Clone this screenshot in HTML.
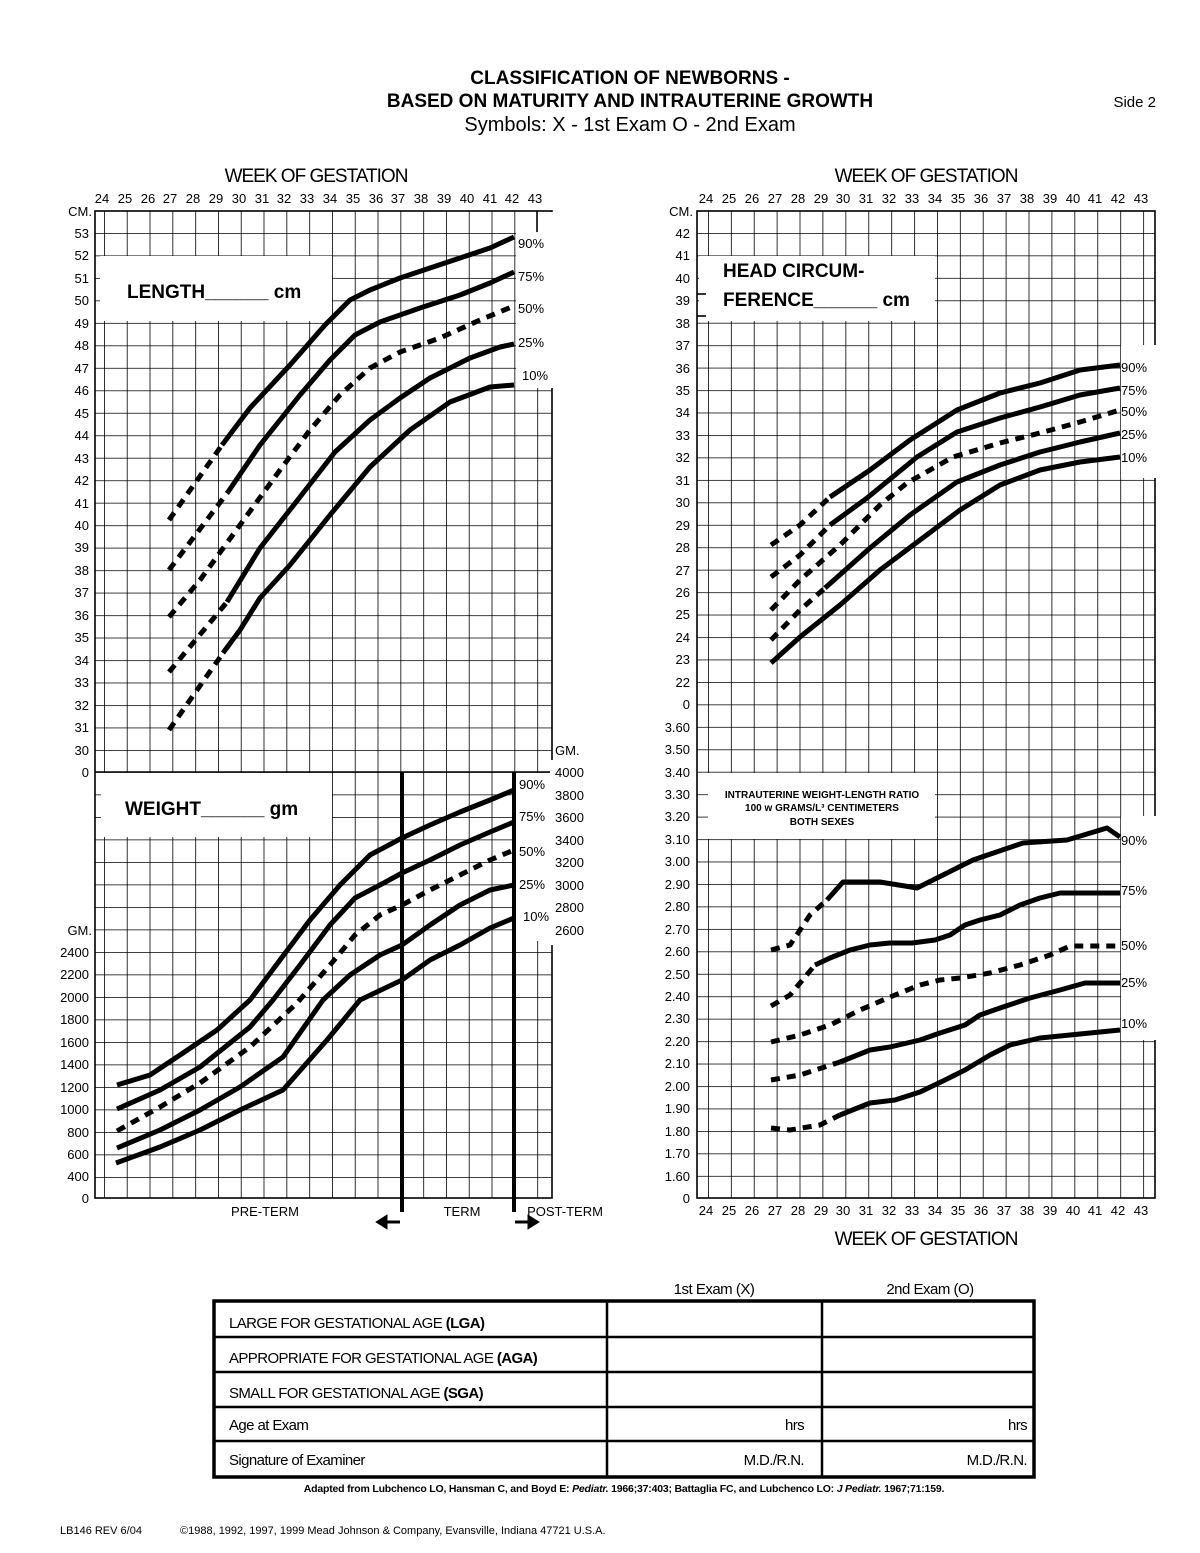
<!DOCTYPE html>
<html><head><meta charset="utf-8"><style>
html,body{margin:0;padding:0;background:#fff}
svg{display:block}
text{font-family:"Liberation Sans",sans-serif;fill:#000}
</style></head><body>
<svg width="1200" height="1553" viewBox="0 0 1200 1553" xmlns="http://www.w3.org/2000/svg">
<defs>
<pattern id="gL1" patternUnits="userSpaceOnUse" x="104" y="233" width="22.8" height="22.48">
<path d="M0 0V22.48M0 0H22.8" stroke="#000" stroke-width="1.6" fill="none"/></pattern>
<pattern id="gL2" patternUnits="userSpaceOnUse" x="104" y="772" width="22.8" height="22.5">
<path d="M0 0V22.5M0 0H22.8" stroke="#000" stroke-width="1.6" fill="none"/></pattern>
<pattern id="gR" patternUnits="userSpaceOnUse" x="708" y="233" width="22.9" height="22.45">
<path d="M0 0V22.45M0 0H22.9" stroke="#000" stroke-width="1.6" fill="none"/></pattern>
</defs>

<!-- Titles -->
<g font-weight="bold" font-size="19" text-anchor="middle">
<text x="630" y="84">CLASSIFICATION OF NEWBORNS -</text>
<text x="630" y="107">BASED ON MATURITY AND INTRAUTERINE GROWTH</text>
</g>
<text x="630" y="131" font-size="20" text-anchor="middle">Symbols:  X - 1st Exam  O - 2nd Exam</text>
<text x="1156" y="107" font-size="15" text-anchor="end">Side 2</text>

<!-- LEFT CHART grid -->
<rect x="95" y="211" width="457" height="561" fill="url(#gL1)"/>
<rect x="95" y="772" width="457" height="426" fill="url(#gL2)"/>
<rect x="95" y="211" width="457" height="987" fill="none" stroke="#000" stroke-width="1.6"/>
<line x1="95" y1="772" x2="552" y2="772" stroke="#000" stroke-width="1.6"/>
<!-- white boxes left -->
<rect x="100" y="256" width="232" height="65" fill="#fff"/>
<rect x="516" y="212" width="38" height="176" fill="#fff"/>
<line x1="537" y1="211" x2="537" y2="232" stroke="#000" stroke-width="1.6"/>
<rect x="101" y="773" width="231" height="64" fill="#fff"/>
<rect x="516" y="773" width="38" height="168" fill="#fff"/>
<line x1="552" y1="760" x2="552" y2="945" stroke="#fff" stroke-width="4"/>
<!-- term lines -->
<line x1="402" y1="772" x2="402" y2="1212" stroke="#000" stroke-width="4"/>
<line x1="514" y1="772" x2="514" y2="1212" stroke="#000" stroke-width="4"/>
<path d="M378 1222h22M378 1222l8-5v10z" stroke="#000" stroke-width="3" fill="#000"/>
<path d="M515 1222h22M537 1222l-8-5v10z" stroke="#000" stroke-width="3" fill="#000"/>
<g font-size="13" text-anchor="middle">
<text x="265" y="1216">PRE-TERM</text><text x="462" y="1216">TERM</text><text x="565" y="1216">POST-TERM</text>
</g>
<text x="127" y="298" font-size="19" font-weight="bold">LENGTH______ cm</text>
<text x="125" y="815" font-size="19" font-weight="bold">WEIGHT______ gm</text>

<!-- left headers -->
<text x="316" y="182" font-size="19" text-anchor="middle" letter-spacing="-1">WEEK OF GESTATION</text>
<g font-size="13" text-anchor="middle">
<text x="102" y="203">24</text><text x="125" y="203">25</text><text x="148" y="203">26</text><text x="170" y="203">27</text><text x="193" y="203">28</text><text x="216" y="203">29</text><text x="239" y="203">30</text><text x="262" y="203">31</text><text x="284" y="203">32</text><text x="307" y="203">33</text><text x="330" y="203">34</text><text x="353" y="203">35</text><text x="376" y="203">36</text><text x="398" y="203">37</text><text x="421" y="203">38</text><text x="444" y="203">39</text><text x="467" y="203">40</text><text x="490" y="203">41</text><text x="512" y="203">42</text><text x="535" y="203">43</text>
</g>
<g font-size="13" text-anchor="end">
<text x="92" y="216">CM.</text>
<text x="89" y="238">53</text><text x="89" y="260">52</text><text x="89" y="283">51</text><text x="89" y="305">50</text><text x="89" y="328">49</text><text x="89" y="350">48</text><text x="89" y="373">47</text><text x="89" y="395">46</text><text x="89" y="418">45</text><text x="89" y="440">44</text><text x="89" y="463">43</text><text x="89" y="485">42</text><text x="89" y="508">41</text><text x="89" y="530">40</text><text x="89" y="552">39</text><text x="89" y="575">38</text><text x="89" y="597">37</text><text x="89" y="620">36</text><text x="89" y="642">35</text><text x="89" y="665">34</text><text x="89" y="687">33</text><text x="89" y="710">32</text><text x="89" y="732">31</text><text x="89" y="755">30</text><text x="89" y="777">0</text>
<text x="92" y="935">GM.</text>
<text x="89" y="957">2400</text><text x="89" y="979">2200</text><text x="89" y="1002">2000</text><text x="89" y="1024">1800</text><text x="89" y="1047">1600</text><text x="89" y="1069">1400</text><text x="89" y="1092">1200</text><text x="89" y="1114">1000</text><text x="89" y="1137">800</text><text x="89" y="1159">600</text><text x="89" y="1181">400</text><text x="89" y="1203">0</text>
</g>
<g font-size="13">
<text x="555" y="755">GM.</text>
<text x="555" y="777">4000</text><text x="555" y="800">3800</text><text x="555" y="822">3600</text><text x="555" y="845">3400</text><text x="555" y="867">3200</text><text x="555" y="890">3000</text><text x="555" y="912">2800</text><text x="555" y="935">2600</text>
<text x="518" y="248">90%</text><text x="518" y="281">75%</text><text x="518" y="313">50%</text><text x="518" y="347">25%</text><text x="522" y="380">10%</text>
<text x="519" y="789">90%</text><text x="519" y="821">75%</text><text x="519" y="856">50%</text><text x="519" y="889">25%</text><text x="523" y="921">10%</text>
</g>

<!-- Length curves -->
<g fill="none" stroke="#000" stroke-width="5" stroke-linejoin="round">
<path d="M169 520L222 445" stroke-dasharray="9 7"/>
<path d="M222 445L250 408L290 365L325 325L350 300L370 290L400 278L430 268L460 258L490 248L514 237"/>
<path d="M169 570L228 492" stroke-dasharray="9 7"/>
<path d="M228 492L260 445L300 395L330 360L355 335L380 322L420 308L460 295L490 283L514 272"/>
<path d="M169 617L200 580L240 525L280 470L310 430L340 395L370 368L400 352L440 338L480 320L514 306" stroke-dasharray="9 7"/>
<path d="M169 672L227 602" stroke-dasharray="9 7"/>
<path d="M227 602L260 548L300 497L335 452L370 420L400 398L430 378L470 358L500 347L514 344"/>
<path d="M169 730L223 653" stroke-dasharray="9 7"/>
<path d="M223 653L240 630L260 598L290 565L330 515L370 467L410 430L450 402L490 387L514 385"/>
</g>
<!-- Weight curves -->
<g fill="none" stroke="#000" stroke-width="5" stroke-linejoin="round">
<path d="M117 1085L150 1075L183 1053L217 1030L250 1000L280 960L310 920L340 885L370 855L402 838L430 825L460 812L490 800L514 790"/>
<path d="M117 1109L160 1090L200 1067L250 1027L273 1000L300 965L330 925L355 898L380 885L402 873L430 860L460 845L490 832L514 822"/>
<path d="M117 1131L160 1107L200 1083L250 1047L297 1003L330 965L355 935L380 915L402 905L430 890L460 875L490 860L514 850" stroke-dasharray="9 7"/>
<path d="M117 1148L160 1130L200 1110L240 1087L283 1057L323 1000L350 975L380 955L402 945L430 925L460 905L490 890L514 885"/>
<path d="M116 1163L160 1147L200 1130L240 1110L283 1090L327 1040L360 1000L402 980L430 960L460 945L490 928L514 918"/>
</g>

<!-- RIGHT CHART -->
<rect x="697" y="211" width="458" height="987" fill="url(#gR)"/>
<rect x="697" y="211" width="458" height="987" fill="none" stroke="#000" stroke-width="1.6"/>
<rect x="699" y="256" width="236" height="65" fill="#fff"/>
<line x1="697" y1="294" x2="706" y2="294" stroke="#000" stroke-width="1.6"/>
<line x1="697" y1="316" x2="706" y2="316" stroke="#000" stroke-width="1.6"/>
<rect x="1121" y="345" width="36" height="133" fill="#fff"/>
<rect x="708" y="773" width="227" height="66" fill="#fff"/>
<rect x="1121" y="816" width="36" height="224" fill="#fff"/>
<text x="723" y="277" font-size="19" font-weight="bold">HEAD CIRCUM-</text>
<text x="723" y="306" font-size="19" font-weight="bold">FERENCE______ cm</text>
<g font-size="10" font-weight="bold" text-anchor="middle">
<text x="822" y="798">INTRAUTERINE WEIGHT-LENGTH RATIO</text>
<text x="822" y="811">100 w GRAMS/L³ CENTIMETERS</text>
<text x="822" y="825">BOTH SEXES</text>
</g>
<text x="926" y="182" font-size="19" text-anchor="middle" letter-spacing="-1">WEEK OF GESTATION</text>
<text x="926" y="1245" font-size="19" text-anchor="middle" letter-spacing="-1">WEEK OF GESTATION</text>
<g font-size="13" text-anchor="middle">
<text x="706" y="203">24</text><text x="729" y="203">25</text><text x="752" y="203">26</text><text x="775" y="203">27</text><text x="798" y="203">28</text><text x="821" y="203">29</text><text x="843" y="203">30</text><text x="866" y="203">31</text><text x="889" y="203">32</text><text x="912" y="203">33</text><text x="935" y="203">34</text><text x="958" y="203">35</text><text x="981" y="203">36</text><text x="1004" y="203">37</text><text x="1027" y="203">38</text><text x="1050" y="203">39</text><text x="1073" y="203">40</text><text x="1095" y="203">41</text><text x="1118" y="203">42</text><text x="1141" y="203">43</text>
<text x="706" y="1215">24</text><text x="729" y="1215">25</text><text x="752" y="1215">26</text><text x="775" y="1215">27</text><text x="798" y="1215">28</text><text x="821" y="1215">29</text><text x="843" y="1215">30</text><text x="866" y="1215">31</text><text x="889" y="1215">32</text><text x="912" y="1215">33</text><text x="935" y="1215">34</text><text x="958" y="1215">35</text><text x="981" y="1215">36</text><text x="1004" y="1215">37</text><text x="1027" y="1215">38</text><text x="1050" y="1215">39</text><text x="1073" y="1215">40</text><text x="1095" y="1215">41</text><text x="1118" y="1215">42</text><text x="1141" y="1215">43</text>
</g>
<g font-size="13" text-anchor="end">
<text x="693" y="216">CM.</text>
<text x="690" y="238">42</text><text x="690" y="260">41</text><text x="690" y="283">40</text><text x="690" y="305">39</text><text x="690" y="328">38</text><text x="690" y="350">37</text><text x="690" y="373">36</text><text x="690" y="395">35</text><text x="690" y="417">34</text><text x="690" y="440">33</text><text x="690" y="462">32</text><text x="690" y="485">31</text><text x="690" y="507">30</text><text x="690" y="530">29</text><text x="690" y="552">28</text><text x="690" y="575">27</text><text x="690" y="597">26</text><text x="690" y="619">25</text><text x="690" y="642">24</text><text x="690" y="664">23</text><text x="690" y="687">22</text><text x="690" y="709">0</text>
<text x="690" y="732">3.60</text><text x="690" y="754">3.50</text><text x="690" y="777">3.40</text><text x="690" y="799">3.30</text><text x="690" y="821">3.20</text><text x="690" y="844">3.10</text><text x="690" y="866">3.00</text><text x="690" y="889">2.90</text><text x="690" y="911">2.80</text><text x="690" y="934">2.70</text><text x="690" y="956">2.60</text><text x="690" y="979">2.50</text><text x="690" y="1001">2.40</text><text x="690" y="1023">2.30</text><text x="690" y="1046">2.20</text><text x="690" y="1068">2.10</text><text x="690" y="1091">2.00</text><text x="690" y="1113">1.90</text><text x="690" y="1136">1.80</text><text x="690" y="1158">1.70</text><text x="690" y="1181">1.60</text><text x="690" y="1203">0</text>
</g>
<g font-size="13">
<text x="1121" y="372">90%</text><text x="1121" y="395">75%</text><text x="1121" y="416">50%</text><text x="1121" y="439">25%</text><text x="1121" y="462">10%</text>
<text x="1121" y="845">90%</text><text x="1121" y="895">75%</text><text x="1121" y="950">50%</text><text x="1121" y="987">25%</text><text x="1121" y="1028">10%</text>
</g>
<!-- Head curves -->
<g fill="none" stroke="#000" stroke-width="5" stroke-linejoin="round">
<path d="M771 545L800 525L830 497" stroke-dasharray="9 7"/>
<path d="M830 497L870 470L910 440L957 410L1000 393L1040 383L1080 370L1120 365"/>
<path d="M771 577L800 555L830 525" stroke-dasharray="9 7"/>
<path d="M830 525L867 498L917 457L957 432L1000 418L1040 407L1080 395L1120 388"/>
<path d="M771 610L800 580L840 545L880 505L907 483L953 457L1000 443L1040 433L1080 422L1120 410" stroke-dasharray="9 7"/>
<path d="M771 640L800 610L825 588" stroke-dasharray="9 7"/>
<path d="M825 588L870 548L910 515L957 482L1000 465L1040 452L1080 442L1120 433"/>
<path d="M771 663L800 637L840 605L880 570L920 540L960 510L1000 485L1040 470L1080 462L1120 457"/>
</g>
<!-- Ratio curves -->
<g fill="none" stroke="#000" stroke-width="5" stroke-linejoin="round">
<path d="M771 950L790 945L810 915L827 900" stroke-dasharray="9 7"/>
<path d="M827 900L843 882L880 882L917 888L973 860L1023 843L1067 840L1107 828L1120 837"/>
<path d="M771 1006L790 995L815 965" stroke-dasharray="9 7"/>
<path d="M815 965L830 958L850 950L870 945L890 943L912 943L935 940L950 935L965 925L980 920L1000 915L1020 905L1040 898L1060 893L1120 893"/>
<path d="M771 1042L800 1035L830 1025L860 1010L890 997L920 985L940 980L960 978L990 973L1020 965L1050 955L1070 946L1120 946" stroke-dasharray="9 7"/>
<path d="M771 1080L800 1075L840 1062" stroke-dasharray="9 7"/>
<path d="M840 1062L870 1050L890 1047L920 1040L940 1033L965 1025L980 1015L1000 1008L1030 998L1060 990L1085 983L1120 983"/>
<path d="M771 1128L790 1130L820 1125L840 1115" stroke-dasharray="9 7"/>
<path d="M840 1115L870 1103L895 1100L920 1092L945 1080L965 1070L990 1055L1010 1045L1040 1038L1070 1035L1120 1030"/>
</g>

<!-- Table -->
<g font-size="15" letter-spacing="-0.5">
<text x="714" y="1294" text-anchor="middle">1st Exam (X)</text>
<text x="930" y="1294" text-anchor="middle">2nd Exam (O)</text>
</g>
<rect x="214" y="1301" width="820" height="176" fill="none" stroke="#000" stroke-width="3.5"/>
<g stroke="#000" stroke-width="2.5">
<line x1="214" y1="1337" x2="1034" y2="1337"/><line x1="214" y1="1372" x2="1034" y2="1372"/><line x1="214" y1="1407" x2="1034" y2="1407"/><line x1="214" y1="1441" x2="1034" y2="1441"/>
<line x1="607" y1="1301" x2="607" y2="1477"/><line x1="822" y1="1301" x2="822" y2="1477"/>
</g>
<g font-size="15" letter-spacing="-0.6">
<text x="229" y="1328">LARGE FOR GESTATIONAL AGE <tspan font-weight="bold">(LGA)</tspan></text>
<text x="229" y="1363">APPROPRIATE FOR GESTATIONAL AGE <tspan font-weight="bold">(AGA)</tspan></text>
<text x="229" y="1398">SMALL FOR GESTATIONAL AGE <tspan font-weight="bold">(SGA)</tspan></text>
<text x="229" y="1430">Age at Exam</text>
<text x="229" y="1465">Signature of Examiner</text>
<text x="804" y="1430" text-anchor="end">hrs</text><text x="1027" y="1430" text-anchor="end">hrs</text>
<text x="804" y="1465" text-anchor="end">M.D./R.N.</text><text x="1027" y="1465" text-anchor="end">M.D./R.N.</text>
</g>
<text x="624" y="1492" font-size="10.5" text-anchor="middle" font-weight="bold" letter-spacing="-0.2">Adapted from Lubchenco LO, Hansman C, and Boyd E: <tspan font-style="italic">Pediatr.</tspan> 1966;37:403; Battaglia FC, and Lubchenco LO: <tspan font-style="italic">J Pediatr.</tspan> 1967;71:159.</text>
<text x="60" y="1534" font-size="11">LB146 REV 6/04</text>
<text x="180" y="1534" font-size="11">©1988, 1992, 1997, 1999 Mead Johnson &amp; Company, Evansville, Indiana 47721  U.S.A.</text>
</svg>
</body></html>
